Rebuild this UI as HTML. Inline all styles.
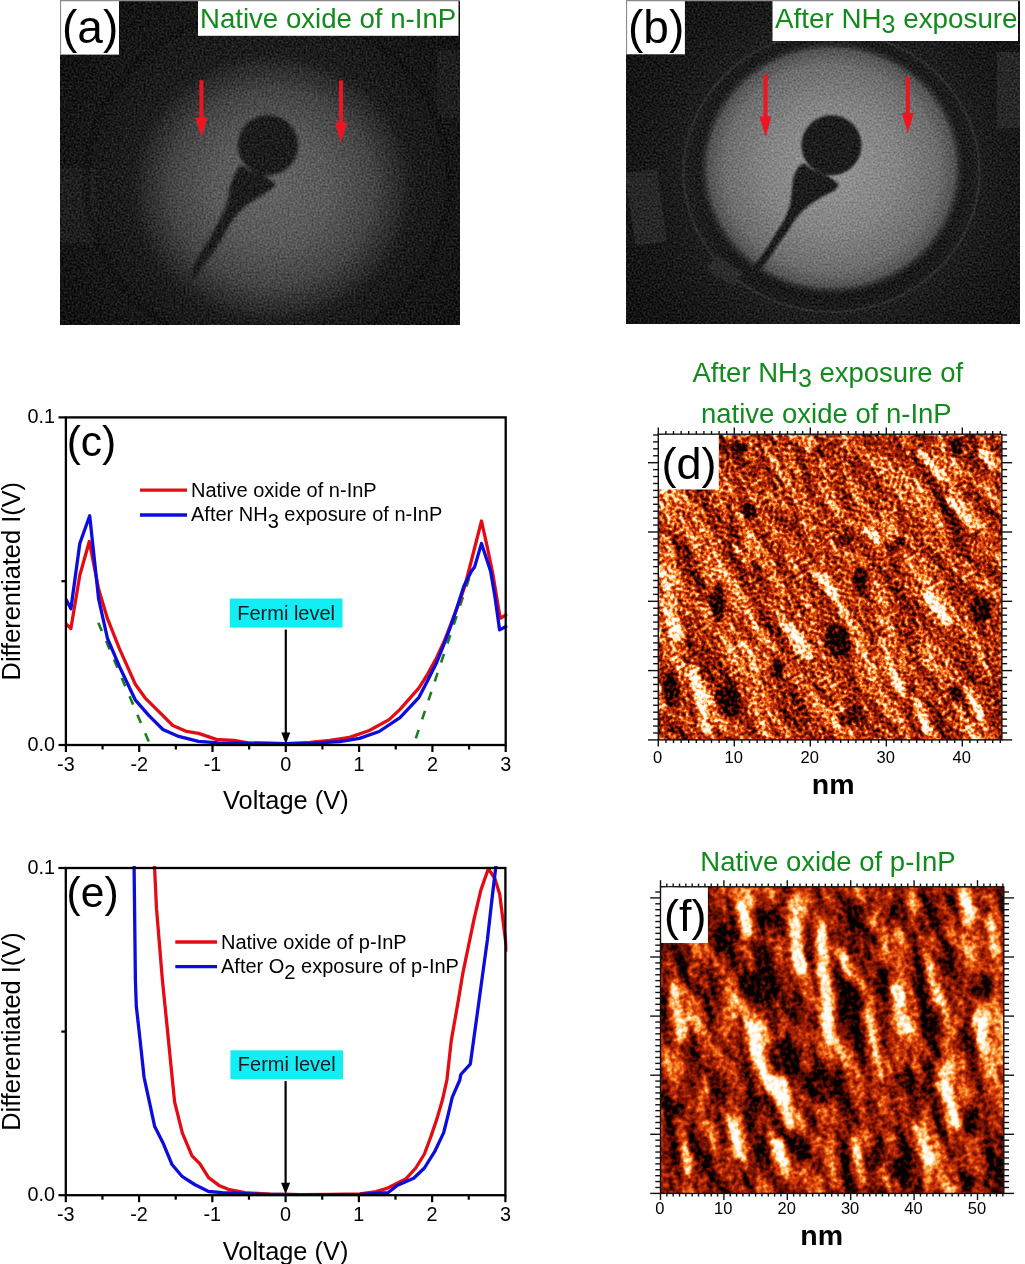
<!DOCTYPE html>
<html><head><meta charset="utf-8"><title>Figure</title>
<style>
html,body{margin:0;padding:0;background:#fff;}
body{width:1025px;height:1264px;overflow:hidden;position:relative;}
svg{position:absolute;left:0;top:0;display:block;}
text{font-family:"Liberation Sans", Arial, sans-serif;}
</style></head><body>
<svg width="1025" height="1264" viewBox="0 0 1025 1264">
<rect width="1025" height="1264" fill="#fff"/>
<defs>
<clipPath id="clipa"><rect x="0" y="0" width="400" height="325"/></clipPath>
<radialGradient id="bga" cx="208" cy="180" r="240" gradientUnits="userSpaceOnUse"><stop offset="0" stop-color="#1e1e1e"/><stop offset="0.6" stop-color="#1c1c1c"/><stop offset="0.8" stop-color="#171717"/><stop offset="1" stop-color="#121212"/></radialGradient>
<radialGradient id="disca" cx="212" cy="188" r="146" gradientUnits="userSpaceOnUse" gradientTransform="translate(212 188) scale(1 0.96) translate(-212 -188)"><stop offset="0" stop-color="#636363"/><stop offset="0.4" stop-color="#595959"/><stop offset="0.7" stop-color="#444"/><stop offset="0.88" stop-color="#2e2e2e" stop-opacity="0.8"/><stop offset="1" stop-color="#1e1e1e" stop-opacity="0"/></radialGradient>
<filter id="blura" x="-20%" y="-20%" width="140%" height="140%"><feGaussianBlur stdDeviation="1.6"/></filter>
<filter id="graina" x="0" y="0" width="400" height="325" filterUnits="userSpaceOnUse" color-interpolation-filters="sRGB"><feTurbulence type="fractalNoise" baseFrequency="0.5" numOctaves="2" seed="3" result="t"/><feColorMatrix in="t" type="matrix" values="1 0 0 0 0  1 0 0 0 0  1 0 0 0 0  0 0 0 0 1" result="n"/><feComposite in="SourceGraphic" in2="n" operator="arithmetic" k1="0" k2="1" k3="0.32" k4="-0.16"/></filter>
</defs>
<g transform="translate(60,0)" clip-path="url(#clipa)">
<g filter="url(#graina)">
<rect x="0" y="0" width="400" height="325" fill="url(#bga)"/>
<rect x="0" y="168" width="36" height="75" fill="#222" opacity="0.8"/>
<rect x="377" y="50" width="23" height="68" fill="#222" opacity="0.8"/>
<ellipse cx="208" cy="182" rx="182" ry="172" fill="none" stroke="#0e0e0e" stroke-width="8" opacity="0.35"/>
<rect x="0" y="0" width="400" height="325" fill="url(#disca)"/>
<g filter="url(#blura)" fill="#1f1f1f">
<circle cx="208" cy="145.2" r="30.2"/>
<polygon points="180.2,164.7 190.7,170.7 204.2,175.2 216.2,184.2 210.2,190.2 198.2,197.7 186.2,205.3 177.1,214.3 169.6,224.8 162.1,238.3 154.6,250.4 145.6,262.4 139.5,271.4 133.5,278.9 130.5,274.4 136.5,259.4 144.1,247.4 153.1,232.3 159.1,220.3 165.1,208.3 168.1,199.2 169.6,187.2 174.1,175.2"/>
</g>
</g>
<line x1="141.4" y1="80.4" x2="141.4" y2="123.5" stroke="#ee1520" stroke-width="4"/>
<polygon points="135.4,117.5 147.4,117.5 141.4,137.5" fill="#ee1520"/>
<line x1="281" y1="80.4" x2="281" y2="128.5" stroke="#ee1520" stroke-width="4"/>
<polygon points="275,122.5 287,122.5 281,142.5" fill="#ee1520"/>
<rect x="0" y="0" width="59" height="54.6" fill="#fff"/>
<text x="2" y="43.2" font-size="46" fill="#000">(a)</text>
<rect x="138" y="0" width="260.5" height="35.8" fill="#fff"/>
<text x="140" y="27.8" font-size="27.6" fill="#128a1e">Native oxide of n-InP</text>
<path d="M0.5,54.6 V0.6 H400" fill="none" stroke="#8a8a8a" stroke-width="1.2"/>
</g>
<defs>
<clipPath id="clipb"><rect x="0" y="0" width="394" height="324"/></clipPath>
<radialGradient id="bgb" cx="206" cy="172" r="250" gradientUnits="userSpaceOnUse"><stop offset="0" stop-color="#1c1c1c"/><stop offset="0.5" stop-color="#181818"/><stop offset="0.58" stop-color="#1f1f1f"/><stop offset="0.68" stop-color="#1a1a1a"/><stop offset="1" stop-color="#121212"/></radialGradient>
<radialGradient id="discb" cx="205.6" cy="168" r="134" gradientUnits="userSpaceOnUse" gradientTransform="translate(205.6 168) scale(1 0.96) translate(-205.6 -168)"><stop offset="0" stop-color="#949494"/><stop offset="0.5" stop-color="#838383"/><stop offset="0.8" stop-color="#6d6d6d"/><stop offset="0.92" stop-color="#525252"/><stop offset="1" stop-color="#222" stop-opacity="0"/></radialGradient>
<filter id="blurb" x="-20%" y="-20%" width="140%" height="140%"><feGaussianBlur stdDeviation="1.3"/></filter>
<filter id="grainb" x="0" y="0" width="394" height="324" filterUnits="userSpaceOnUse" color-interpolation-filters="sRGB"><feTurbulence type="fractalNoise" baseFrequency="0.5" numOctaves="2" seed="7" result="t"/><feColorMatrix in="t" type="matrix" values="1 0 0 0 0  1 0 0 0 0  1 0 0 0 0  0 0 0 0 1" result="n"/><feComposite in="SourceGraphic" in2="n" operator="arithmetic" k1="0" k2="1" k3="0.32" k4="-0.16"/></filter>
</defs>
<g transform="translate(626,0)" clip-path="url(#clipb)">
<g filter="url(#grainb)">
<rect x="0" y="0" width="394" height="324" fill="url(#bgb)"/>
<ellipse cx="205.6" cy="172" rx="148" ry="140" fill="none" stroke="#2e2e2e" stroke-width="2.5"/>
<rect x="4" y="171" width="32" height="73" fill="#282828" transform="rotate(-8 20 207)"/>
<rect x="371" y="52" width="23" height="76" fill="#282828"/>
<rect x="83" y="262" width="32" height="17" fill="#2c2c2c" transform="rotate(32 98 271)"/>
<rect x="0" y="0" width="394" height="324" fill="url(#discb)"/>
<g filter="url(#blurb)" fill="#1c1c1c">
<circle cx="205.5" cy="145.3" r="30"/>
<polygon points="177.6,163.2 188.2,170.7 203.2,176.7 213.0,184.2 209.2,190.2 197.2,196.2 185.2,203.8 176.1,211.3 168.6,220.3 161.1,232.3 152.1,244.4 144.6,256.4 135.5,268.4 128.0,277.4 122.0,278.9 125.0,269.9 134.0,257.9 143.1,244.4 150.6,232.3 158.1,220.3 164.1,205.3 165.6,193.2 167.1,178.2 171.6,167.7"/>
</g>
</g>
<line x1="139.5" y1="75" x2="139.5" y2="122.5" stroke="#ee1520" stroke-width="4"/>
<polygon points="133.5,116.5 145.5,116.5 139.5,136.5" fill="#ee1520"/>
<line x1="281.8" y1="77" x2="281.8" y2="119" stroke="#ee1520" stroke-width="4"/>
<polygon points="275.8,113 287.8,113 281.8,133" fill="#ee1520"/>
<rect x="0" y="0" width="58.9" height="54.3" fill="#fff"/>
<text x="2" y="43.2" font-size="46" fill="#000">(b)</text>
<rect x="146.5" y="0" width="245.5" height="41" fill="#fff"/>
<text x="149" y="28" font-size="27.8" fill="#128a1e">After NH<tspan dy="5" font-size="25">3</tspan><tspan dy="-5"> exposure</tspan></text>
<path d="M0.5,54.3 V0.6 H394" fill="none" stroke="#8a8a8a" stroke-width="1.2"/>
</g>
<defs><clipPath id="clipd"><rect x="658.3" y="434.2" width="343.6" height="305.7"/></clipPath>
<filter id="fltd" x="-241.95" y="-241.95" width="483.91" height="483.91" filterUnits="userSpaceOnUse" color-interpolation-filters="sRGB">
<feGaussianBlur in="SourceGraphic" stdDeviation="1.5" result="m"/>
<feTurbulence type="fractalNoise" baseFrequency="0.016 0.035" numOctaves="3" seed="8" result="tl"/>
<feColorMatrix in="tl" type="matrix" values="1 0 0 0 0  1 0 0 0 0  1 0 0 0 0  0 0 0 0 1" result="T"/>
<feGaussianBlur in="SourceGraphic" stdDeviation="4" result="mb"/>
<feComposite in="T" in2="mb" operator="arithmetic" k1="0" k2="1" k3="0.5" k4="-0.25" result="H"/>
<feColorMatrix in="H" type="matrix" values="-1 0 0 0 1  -1 0 0 0 1  -1 0 0 0 1  0 0 0 0 1" result="Hi"/>
<feOffset in="H" dx="0" dy="-3" result="Hp"/>
<feOffset in="Hi" dx="0" dy="3" result="Hmi"/>
<feComposite in="Hp" in2="Hmi" operator="arithmetic" k1="0" k2="1.4" k3="1.4" k4="-0.95" result="r"/>
<feComposite in="r" in2="m" operator="arithmetic" k1="0" k2="1" k3="0.8" k4="-0.4" result="s1"/>
<feComposite in="s1" in2="H" operator="arithmetic" k1="0" k2="1" k3="0.25" k4="-0.12" result="s2"/>
<feTurbulence type="fractalNoise" baseFrequency="0.28" numOctaves="2" seed="11" result="tf"/>
<feColorMatrix in="tf" type="matrix" values="1 0 0 0 0  1 0 0 0 0  1 0 0 0 0  0 0 0 0 1" result="n"/>
<feComposite in="s2" in2="n" operator="arithmetic" k1="0" k2="1" k3="1.5" k4="-0.75" result="s3"/>
<feComponentTransfer in="s3"><feFuncR type="table" tableValues="0 0.24 0.41 0.55 0.71 0.84 0.94 1 1 1 1"/><feFuncG type="table" tableValues="0 0.02 0.06 0.10 0.16 0.25 0.43 0.63 0.82 0.94 1"/><feFuncB type="table" tableValues="0 0 0 0.01 0.02 0.04 0.10 0.24 0.55 0.84 1"/><feFuncA type="linear" slope="0" intercept="1"/></feComponentTransfer>
</filter></defs>
<g clip-path="url(#clipd)"><g transform="translate(830.1,587.05) rotate(60)" filter="url(#fltd)">
<rect x="-241.95" y="-241.95" width="483.91" height="483.91" fill="rgb(128,128,128)"/>
<g transform="rotate(-60) translate(-171.8,-152.85)">
<ellipse cx="177.9" cy="208" rx="14" ry="17" transform="rotate(0 177.9 208)" fill="rgb(0,0,0)"/>
<ellipse cx="199.7" cy="147.7" rx="7" ry="15" transform="rotate(0 199.7 147.7)" fill="rgb(0,0,0)"/>
<ellipse cx="58.7" cy="167.8" rx="7" ry="20" transform="rotate(0 58.7 167.8)" fill="rgb(0,0,0)"/>
<ellipse cx="322" cy="174.5" rx="10" ry="13" transform="rotate(0 322 174.5)" fill="rgb(0,0,0)"/>
<ellipse cx="238" cy="110.7" rx="7" ry="7" transform="rotate(0 238 110.7)" fill="rgb(0,0,0)"/>
<ellipse cx="295" cy="13.4" rx="8" ry="10" transform="rotate(0 295 13.4)" fill="rgb(0,0,0)"/>
<ellipse cx="117.4" cy="235" rx="7" ry="10" transform="rotate(0 117.4 235)" fill="rgb(0,0,0)"/>
<ellipse cx="67" cy="268.5" rx="13" ry="15" transform="rotate(0 67 268.5)" fill="rgb(0,0,0)"/>
<ellipse cx="10" cy="255" rx="7" ry="17" transform="rotate(0 10 255)" fill="rgb(0,0,0)"/>
<ellipse cx="186" cy="107" rx="6" ry="6" transform="rotate(0 186 107)" fill="rgb(0,0,0)"/>
<ellipse cx="80.5" cy="13.4" rx="9" ry="6" transform="rotate(0 80.5 13.4)" fill="rgb(0,0,0)"/>
<ellipse cx="157.7" cy="20" rx="7" ry="6" transform="rotate(0 157.7 20)" fill="rgb(0,0,0)"/>
<ellipse cx="295" cy="261.7" rx="8" ry="8" transform="rotate(0 295 261.7)" fill="rgb(0,0,0)"/>
<ellipse cx="90.6" cy="77" rx="7" ry="7" transform="rotate(0 90.6 77)" fill="rgb(0,0,0)"/>
<ellipse cx="188" cy="285" rx="8" ry="8" transform="rotate(0 188 285)" fill="rgb(0,0,0)"/>
<line x1="0" y1="141" x2="18" y2="201" stroke="rgb(255,255,255)" stroke-width="14" stroke-linecap="round"/>
<line x1="131" y1="195" x2="148" y2="221" stroke="rgb(255,255,255)" stroke-width="12" stroke-linecap="round"/>
<line x1="157.7" y1="141" x2="174.5" y2="161" stroke="rgb(255,255,255)" stroke-width="8" stroke-linecap="round"/>
<line x1="292" y1="67" x2="312" y2="94" stroke="rgb(255,255,255)" stroke-width="8" stroke-linecap="round"/>
<line x1="268" y1="161" x2="288.6" y2="188" stroke="rgb(255,255,255)" stroke-width="9" stroke-linecap="round"/>
<line x1="221.5" y1="208" x2="241.6" y2="255" stroke="rgb(255,255,255)" stroke-width="8" stroke-linecap="round"/>
<line x1="308.7" y1="255" x2="322" y2="282" stroke="rgb(255,255,255)" stroke-width="8" stroke-linecap="round"/>
<line x1="33.6" y1="235" x2="47" y2="295" stroke="rgb(255,255,255)" stroke-width="8" stroke-linecap="round"/>
<line x1="261.7" y1="20" x2="282" y2="43.6" stroke="rgb(255,255,255)" stroke-width="8" stroke-linecap="round"/>
<line x1="210" y1="96" x2="220" y2="106" stroke="rgb(255,255,255)" stroke-width="7" stroke-linecap="round"/>
<line x1="77" y1="114" x2="87" y2="127.5" stroke="rgb(255,255,255)" stroke-width="7" stroke-linecap="round"/>
<line x1="255" y1="262" x2="268.5" y2="295" stroke="rgb(255,255,255)" stroke-width="7" stroke-linecap="round"/>
<line x1="84" y1="211" x2="100.7" y2="235" stroke="rgb(255,255,255)" stroke-width="8" stroke-linecap="round"/>
<line x1="322" y1="17" x2="335.6" y2="33.6" stroke="rgb(255,255,255)" stroke-width="7" stroke-linecap="round"/>
</g></g></g>
<defs><clipPath id="clipf"><rect x="660.5" y="886.8" width="343.3" height="306.2"/></clipPath>
<filter id="fltf" x="-242.01" y="-242.01" width="484.01" height="484.01" filterUnits="userSpaceOnUse" color-interpolation-filters="sRGB">
<feGaussianBlur in="SourceGraphic" stdDeviation="2" result="m"/>
<feTurbulence type="fractalNoise" baseFrequency="0.016 0.024" numOctaves="3" seed="4" result="tl"/>
<feColorMatrix in="tl" type="matrix" values="1 0 0 0 0  1 0 0 0 0  1 0 0 0 0  0 0 0 0 1" result="T"/>
<feGaussianBlur in="SourceGraphic" stdDeviation="5" result="mb"/>
<feComposite in="T" in2="mb" operator="arithmetic" k1="0" k2="1" k3="0.6" k4="-0.3" result="H"/>
<feColorMatrix in="H" type="matrix" values="-1 0 0 0 1  -1 0 0 0 1  -1 0 0 0 1  0 0 0 0 1" result="Hi"/>
<feOffset in="H" dx="0" dy="-3" result="Hp"/>
<feOffset in="Hi" dx="0" dy="3" result="Hmi"/>
<feComposite in="Hp" in2="Hmi" operator="arithmetic" k1="0" k2="2.3" k3="2.3" k4="-1.94" result="r"/>
<feComposite in="r" in2="m" operator="arithmetic" k1="0" k2="1" k3="0.45" k4="-0.23" result="s1"/>
<feComposite in="s1" in2="H" operator="arithmetic" k1="0" k2="1" k3="0.5" k4="-0.25" result="s2"/>
<feTurbulence type="fractalNoise" baseFrequency="0.22" numOctaves="2" seed="23" result="tf"/>
<feColorMatrix in="tf" type="matrix" values="1 0 0 0 0  1 0 0 0 0  1 0 0 0 0  0 0 0 0 1" result="n"/>
<feComposite in="s2" in2="n" operator="arithmetic" k1="0" k2="1" k3="0.75" k4="-0.38" result="s3"/>
<feComponentTransfer in="s3"><feFuncR type="table" tableValues="0 0.24 0.41 0.55 0.71 0.84 0.94 1 1 1 1"/><feFuncG type="table" tableValues="0 0.02 0.06 0.10 0.16 0.25 0.43 0.63 0.82 0.94 1"/><feFuncB type="table" tableValues="0 0 0 0.01 0.02 0.04 0.10 0.24 0.55 0.84 1"/><feFuncA type="linear" slope="0" intercept="1"/></feComponentTransfer>
</filter></defs>
<g clip-path="url(#clipf)"><g transform="translate(832.15,1039.9) rotate(75)" filter="url(#fltf)">
<rect x="-242.01" y="-242.01" width="484.01" height="484.01" fill="rgb(128,128,128)"/>
<g transform="rotate(-75) translate(-171.65,-153.1)">
<ellipse cx="94" cy="100.7" rx="20" ry="17" transform="rotate(0 94 100.7)" fill="rgb(45,45,45)"/>
<ellipse cx="114" cy="174.5" rx="17" ry="20" transform="rotate(0 114 174.5)" fill="rgb(45,45,45)"/>
<ellipse cx="157.7" cy="198" rx="20" ry="20" transform="rotate(0 157.7 198)" fill="rgb(45,45,45)"/>
<ellipse cx="57" cy="53.7" rx="15" ry="15" transform="rotate(0 57 53.7)" fill="rgb(45,45,45)"/>
<ellipse cx="97" cy="33.6" rx="15" ry="12" transform="rotate(0 97 33.6)" fill="rgb(45,45,45)"/>
<ellipse cx="33.6" cy="268.5" rx="17" ry="20" transform="rotate(0 33.6 268.5)" fill="rgb(45,45,45)"/>
<ellipse cx="214.8" cy="94" rx="15" ry="15" transform="rotate(0 214.8 94)" fill="rgb(45,45,45)"/>
<ellipse cx="188" cy="117.4" rx="12" ry="15" transform="rotate(0 188 117.4)" fill="rgb(45,45,45)"/>
<ellipse cx="302" cy="235" rx="15" ry="15" transform="rotate(0 302 235)" fill="rgb(45,45,45)"/>
<ellipse cx="261.7" cy="141" rx="10" ry="15" transform="rotate(0 261.7 141)" fill="rgb(45,45,45)"/>
<ellipse cx="241.6" cy="194.6" rx="12" ry="15" transform="rotate(0 241.6 194.6)" fill="rgb(45,45,45)"/>
<ellipse cx="318.8" cy="100.7" rx="12" ry="12" transform="rotate(0 318.8 100.7)" fill="rgb(45,45,45)"/>
<ellipse cx="134" cy="261.7" rx="12" ry="15" transform="rotate(0 134 261.7)" fill="rgb(45,45,45)"/>
<ellipse cx="208" cy="268.5" rx="15" ry="15" transform="rotate(0 208 268.5)" fill="rgb(45,45,45)"/>
<ellipse cx="235" cy="282" rx="12" ry="12" transform="rotate(0 235 282)" fill="rgb(45,45,45)"/>
<ellipse cx="302" cy="295" rx="12" ry="10" transform="rotate(0 302 295)" fill="rgb(45,45,45)"/>
<ellipse cx="228" cy="33.6" rx="12" ry="12" transform="rotate(0 228 33.6)" fill="rgb(45,45,45)"/>
<ellipse cx="188" cy="26.8" rx="12" ry="12" transform="rotate(0 188 26.8)" fill="rgb(45,45,45)"/>
<ellipse cx="26.8" cy="161" rx="12" ry="15" transform="rotate(0 26.8 161)" fill="rgb(45,45,45)"/>
<ellipse cx="302" cy="154" rx="12" ry="15" transform="rotate(0 302 154)" fill="rgb(45,45,45)"/>
<line x1="78" y1="20" x2="84" y2="47" stroke="rgb(255,255,255)" stroke-width="12" stroke-linecap="round"/>
<line x1="128" y1="13" x2="137" y2="84" stroke="rgb(255,255,255)" stroke-width="13" stroke-linecap="round"/>
<line x1="157" y1="40" x2="165" y2="141" stroke="rgb(255,255,255)" stroke-width="12" stroke-linecap="round"/>
<line x1="86" y1="141" x2="99" y2="201" stroke="rgb(255,255,255)" stroke-width="16" stroke-linecap="round"/>
<line x1="113" y1="195" x2="125" y2="235" stroke="rgb(255,255,255)" stroke-width="13" stroke-linecap="round"/>
<line x1="203" y1="127.5" x2="216" y2="188" stroke="rgb(255,255,255)" stroke-width="12" stroke-linecap="round"/>
<line x1="232" y1="104" x2="238" y2="141" stroke="rgb(255,255,255)" stroke-width="12" stroke-linecap="round"/>
<line x1="279" y1="181" x2="289" y2="235" stroke="rgb(255,255,255)" stroke-width="16" stroke-linecap="round"/>
<line x1="261" y1="54" x2="272" y2="114" stroke="rgb(255,255,255)" stroke-width="11" stroke-linecap="round"/>
<line x1="315" y1="134" x2="326" y2="188" stroke="rgb(255,255,255)" stroke-width="12" stroke-linecap="round"/>
<line x1="67" y1="235" x2="74" y2="268" stroke="rgb(255,255,255)" stroke-width="11" stroke-linecap="round"/>
<line x1="114" y1="258" x2="121" y2="292" stroke="rgb(255,255,255)" stroke-width="11" stroke-linecap="round"/>
<line x1="10" y1="101" x2="17" y2="151" stroke="rgb(255,255,255)" stroke-width="11" stroke-linecap="round"/>
<line x1="16" y1="235" x2="24" y2="285" stroke="rgb(255,255,255)" stroke-width="11" stroke-linecap="round"/>
<line x1="191" y1="255" x2="198" y2="295" stroke="rgb(255,255,255)" stroke-width="11" stroke-linecap="round"/>
<line x1="255" y1="242" x2="265" y2="275" stroke="rgb(255,255,255)" stroke-width="11" stroke-linecap="round"/>
<line x1="298" y1="7" x2="306" y2="34" stroke="rgb(255,255,255)" stroke-width="11" stroke-linecap="round"/>
<line x1="177" y1="67" x2="185" y2="90" stroke="rgb(255,255,255)" stroke-width="10" stroke-linecap="round"/>
<line x1="325" y1="34" x2="333" y2="67" stroke="rgb(255,255,255)" stroke-width="10" stroke-linecap="round"/>
</g></g></g>
<g stroke="#111" stroke-width="1.4" fill="none">
<line x1="658.3" y1="739.9" x2="658.3" y2="746.5"/>
<line x1="658.3" y1="434.2" x2="658.3" y2="427.6"/>
<line x1="665.9" y1="739.9" x2="665.9" y2="743.1"/>
<line x1="665.9" y1="434.2" x2="665.9" y2="431"/>
<line x1="673.5" y1="739.9" x2="673.5" y2="743.1"/>
<line x1="673.5" y1="434.2" x2="673.5" y2="431"/>
<line x1="681.1" y1="739.9" x2="681.1" y2="743.1"/>
<line x1="681.1" y1="434.2" x2="681.1" y2="431"/>
<line x1="688.7" y1="739.9" x2="688.7" y2="743.1"/>
<line x1="688.7" y1="434.2" x2="688.7" y2="431"/>
<line x1="696.3" y1="739.9" x2="696.3" y2="743.1"/>
<line x1="696.3" y1="434.2" x2="696.3" y2="431"/>
<line x1="703.9" y1="739.9" x2="703.9" y2="743.1"/>
<line x1="703.9" y1="434.2" x2="703.9" y2="431"/>
<line x1="711.5" y1="739.9" x2="711.5" y2="743.1"/>
<line x1="711.5" y1="434.2" x2="711.5" y2="431"/>
<line x1="719.1" y1="739.9" x2="719.1" y2="743.1"/>
<line x1="719.1" y1="434.2" x2="719.1" y2="431"/>
<line x1="726.7" y1="739.9" x2="726.7" y2="743.1"/>
<line x1="726.7" y1="434.2" x2="726.7" y2="431"/>
<line x1="734.3" y1="739.9" x2="734.3" y2="746.5"/>
<line x1="734.3" y1="434.2" x2="734.3" y2="427.6"/>
<line x1="741.9" y1="739.9" x2="741.9" y2="743.1"/>
<line x1="741.9" y1="434.2" x2="741.9" y2="431"/>
<line x1="749.5" y1="739.9" x2="749.5" y2="743.1"/>
<line x1="749.5" y1="434.2" x2="749.5" y2="431"/>
<line x1="757.1" y1="739.9" x2="757.1" y2="743.1"/>
<line x1="757.1" y1="434.2" x2="757.1" y2="431"/>
<line x1="764.7" y1="739.9" x2="764.7" y2="743.1"/>
<line x1="764.7" y1="434.2" x2="764.7" y2="431"/>
<line x1="772.3" y1="739.9" x2="772.3" y2="743.1"/>
<line x1="772.3" y1="434.2" x2="772.3" y2="431"/>
<line x1="779.9" y1="739.9" x2="779.9" y2="743.1"/>
<line x1="779.9" y1="434.2" x2="779.9" y2="431"/>
<line x1="787.5" y1="739.9" x2="787.5" y2="743.1"/>
<line x1="787.5" y1="434.2" x2="787.5" y2="431"/>
<line x1="795.1" y1="739.9" x2="795.1" y2="743.1"/>
<line x1="795.1" y1="434.2" x2="795.1" y2="431"/>
<line x1="802.7" y1="739.9" x2="802.7" y2="743.1"/>
<line x1="802.7" y1="434.2" x2="802.7" y2="431"/>
<line x1="810.3" y1="739.9" x2="810.3" y2="746.5"/>
<line x1="810.3" y1="434.2" x2="810.3" y2="427.6"/>
<line x1="817.9" y1="739.9" x2="817.9" y2="743.1"/>
<line x1="817.9" y1="434.2" x2="817.9" y2="431"/>
<line x1="825.5" y1="739.9" x2="825.5" y2="743.1"/>
<line x1="825.5" y1="434.2" x2="825.5" y2="431"/>
<line x1="833.1" y1="739.9" x2="833.1" y2="743.1"/>
<line x1="833.1" y1="434.2" x2="833.1" y2="431"/>
<line x1="840.7" y1="739.9" x2="840.7" y2="743.1"/>
<line x1="840.7" y1="434.2" x2="840.7" y2="431"/>
<line x1="848.3" y1="739.9" x2="848.3" y2="743.1"/>
<line x1="848.3" y1="434.2" x2="848.3" y2="431"/>
<line x1="855.9" y1="739.9" x2="855.9" y2="743.1"/>
<line x1="855.9" y1="434.2" x2="855.9" y2="431"/>
<line x1="863.5" y1="739.9" x2="863.5" y2="743.1"/>
<line x1="863.5" y1="434.2" x2="863.5" y2="431"/>
<line x1="871.1" y1="739.9" x2="871.1" y2="743.1"/>
<line x1="871.1" y1="434.2" x2="871.1" y2="431"/>
<line x1="878.7" y1="739.9" x2="878.7" y2="743.1"/>
<line x1="878.7" y1="434.2" x2="878.7" y2="431"/>
<line x1="886.3" y1="739.9" x2="886.3" y2="746.5"/>
<line x1="886.3" y1="434.2" x2="886.3" y2="427.6"/>
<line x1="893.9" y1="739.9" x2="893.9" y2="743.1"/>
<line x1="893.9" y1="434.2" x2="893.9" y2="431"/>
<line x1="901.5" y1="739.9" x2="901.5" y2="743.1"/>
<line x1="901.5" y1="434.2" x2="901.5" y2="431"/>
<line x1="909.1" y1="739.9" x2="909.1" y2="743.1"/>
<line x1="909.1" y1="434.2" x2="909.1" y2="431"/>
<line x1="916.7" y1="739.9" x2="916.7" y2="743.1"/>
<line x1="916.7" y1="434.2" x2="916.7" y2="431"/>
<line x1="924.3" y1="739.9" x2="924.3" y2="743.1"/>
<line x1="924.3" y1="434.2" x2="924.3" y2="431"/>
<line x1="931.9" y1="739.9" x2="931.9" y2="743.1"/>
<line x1="931.9" y1="434.2" x2="931.9" y2="431"/>
<line x1="939.5" y1="739.9" x2="939.5" y2="743.1"/>
<line x1="939.5" y1="434.2" x2="939.5" y2="431"/>
<line x1="947.1" y1="739.9" x2="947.1" y2="743.1"/>
<line x1="947.1" y1="434.2" x2="947.1" y2="431"/>
<line x1="954.7" y1="739.9" x2="954.7" y2="743.1"/>
<line x1="954.7" y1="434.2" x2="954.7" y2="431"/>
<line x1="962.3" y1="739.9" x2="962.3" y2="746.5"/>
<line x1="962.3" y1="434.2" x2="962.3" y2="427.6"/>
<line x1="969.9" y1="739.9" x2="969.9" y2="743.1"/>
<line x1="969.9" y1="434.2" x2="969.9" y2="431"/>
<line x1="977.5" y1="739.9" x2="977.5" y2="743.1"/>
<line x1="977.5" y1="434.2" x2="977.5" y2="431"/>
<line x1="985.1" y1="739.9" x2="985.1" y2="743.1"/>
<line x1="985.1" y1="434.2" x2="985.1" y2="431"/>
<line x1="992.7" y1="739.9" x2="992.7" y2="743.1"/>
<line x1="992.7" y1="434.2" x2="992.7" y2="431"/>
<line x1="1000.3" y1="739.9" x2="1000.3" y2="743.1"/>
<line x1="1000.3" y1="434.2" x2="1000.3" y2="431"/>
<line x1="658.3" y1="739.9" x2="648" y2="739.9"/>
<line x1="1001.9" y1="739.9" x2="1012.2" y2="739.9"/>
<line x1="658.3" y1="732.97" x2="653.1" y2="732.97"/>
<line x1="1001.9" y1="732.97" x2="1007.1" y2="732.97"/>
<line x1="658.3" y1="726.04" x2="653.1" y2="726.04"/>
<line x1="1001.9" y1="726.04" x2="1007.1" y2="726.04"/>
<line x1="658.3" y1="719.11" x2="653.1" y2="719.11"/>
<line x1="1001.9" y1="719.11" x2="1007.1" y2="719.11"/>
<line x1="658.3" y1="712.18" x2="653.1" y2="712.18"/>
<line x1="1001.9" y1="712.18" x2="1007.1" y2="712.18"/>
<line x1="658.3" y1="705.25" x2="653.1" y2="705.25"/>
<line x1="1001.9" y1="705.25" x2="1007.1" y2="705.25"/>
<line x1="658.3" y1="698.32" x2="653.1" y2="698.32"/>
<line x1="1001.9" y1="698.32" x2="1007.1" y2="698.32"/>
<line x1="658.3" y1="691.39" x2="653.1" y2="691.39"/>
<line x1="1001.9" y1="691.39" x2="1007.1" y2="691.39"/>
<line x1="658.3" y1="684.46" x2="653.1" y2="684.46"/>
<line x1="1001.9" y1="684.46" x2="1007.1" y2="684.46"/>
<line x1="658.3" y1="677.53" x2="653.1" y2="677.53"/>
<line x1="1001.9" y1="677.53" x2="1007.1" y2="677.53"/>
<line x1="658.3" y1="670.6" x2="648" y2="670.6"/>
<line x1="1001.9" y1="670.6" x2="1012.2" y2="670.6"/>
<line x1="658.3" y1="663.67" x2="653.1" y2="663.67"/>
<line x1="1001.9" y1="663.67" x2="1007.1" y2="663.67"/>
<line x1="658.3" y1="656.74" x2="653.1" y2="656.74"/>
<line x1="1001.9" y1="656.74" x2="1007.1" y2="656.74"/>
<line x1="658.3" y1="649.81" x2="653.1" y2="649.81"/>
<line x1="1001.9" y1="649.81" x2="1007.1" y2="649.81"/>
<line x1="658.3" y1="642.88" x2="653.1" y2="642.88"/>
<line x1="1001.9" y1="642.88" x2="1007.1" y2="642.88"/>
<line x1="658.3" y1="635.95" x2="653.1" y2="635.95"/>
<line x1="1001.9" y1="635.95" x2="1007.1" y2="635.95"/>
<line x1="658.3" y1="629.02" x2="653.1" y2="629.02"/>
<line x1="1001.9" y1="629.02" x2="1007.1" y2="629.02"/>
<line x1="658.3" y1="622.09" x2="653.1" y2="622.09"/>
<line x1="1001.9" y1="622.09" x2="1007.1" y2="622.09"/>
<line x1="658.3" y1="615.16" x2="653.1" y2="615.16"/>
<line x1="1001.9" y1="615.16" x2="1007.1" y2="615.16"/>
<line x1="658.3" y1="608.23" x2="653.1" y2="608.23"/>
<line x1="1001.9" y1="608.23" x2="1007.1" y2="608.23"/>
<line x1="658.3" y1="601.3" x2="648" y2="601.3"/>
<line x1="1001.9" y1="601.3" x2="1012.2" y2="601.3"/>
<line x1="658.3" y1="594.37" x2="653.1" y2="594.37"/>
<line x1="1001.9" y1="594.37" x2="1007.1" y2="594.37"/>
<line x1="658.3" y1="587.44" x2="653.1" y2="587.44"/>
<line x1="1001.9" y1="587.44" x2="1007.1" y2="587.44"/>
<line x1="658.3" y1="580.51" x2="653.1" y2="580.51"/>
<line x1="1001.9" y1="580.51" x2="1007.1" y2="580.51"/>
<line x1="658.3" y1="573.58" x2="653.1" y2="573.58"/>
<line x1="1001.9" y1="573.58" x2="1007.1" y2="573.58"/>
<line x1="658.3" y1="566.65" x2="653.1" y2="566.65"/>
<line x1="1001.9" y1="566.65" x2="1007.1" y2="566.65"/>
<line x1="658.3" y1="559.72" x2="653.1" y2="559.72"/>
<line x1="1001.9" y1="559.72" x2="1007.1" y2="559.72"/>
<line x1="658.3" y1="552.79" x2="653.1" y2="552.79"/>
<line x1="1001.9" y1="552.79" x2="1007.1" y2="552.79"/>
<line x1="658.3" y1="545.86" x2="653.1" y2="545.86"/>
<line x1="1001.9" y1="545.86" x2="1007.1" y2="545.86"/>
<line x1="658.3" y1="538.93" x2="653.1" y2="538.93"/>
<line x1="1001.9" y1="538.93" x2="1007.1" y2="538.93"/>
<line x1="658.3" y1="532" x2="648" y2="532"/>
<line x1="1001.9" y1="532" x2="1012.2" y2="532"/>
<line x1="658.3" y1="525.07" x2="653.1" y2="525.07"/>
<line x1="1001.9" y1="525.07" x2="1007.1" y2="525.07"/>
<line x1="658.3" y1="518.14" x2="653.1" y2="518.14"/>
<line x1="1001.9" y1="518.14" x2="1007.1" y2="518.14"/>
<line x1="658.3" y1="511.21" x2="653.1" y2="511.21"/>
<line x1="1001.9" y1="511.21" x2="1007.1" y2="511.21"/>
<line x1="658.3" y1="504.28" x2="653.1" y2="504.28"/>
<line x1="1001.9" y1="504.28" x2="1007.1" y2="504.28"/>
<line x1="658.3" y1="497.35" x2="653.1" y2="497.35"/>
<line x1="1001.9" y1="497.35" x2="1007.1" y2="497.35"/>
<line x1="658.3" y1="490.42" x2="653.1" y2="490.42"/>
<line x1="1001.9" y1="490.42" x2="1007.1" y2="490.42"/>
<line x1="658.3" y1="483.49" x2="653.1" y2="483.49"/>
<line x1="1001.9" y1="483.49" x2="1007.1" y2="483.49"/>
<line x1="658.3" y1="476.56" x2="653.1" y2="476.56"/>
<line x1="1001.9" y1="476.56" x2="1007.1" y2="476.56"/>
<line x1="658.3" y1="469.63" x2="653.1" y2="469.63"/>
<line x1="1001.9" y1="469.63" x2="1007.1" y2="469.63"/>
<line x1="658.3" y1="462.7" x2="648" y2="462.7"/>
<line x1="1001.9" y1="462.7" x2="1012.2" y2="462.7"/>
<line x1="658.3" y1="455.77" x2="653.1" y2="455.77"/>
<line x1="1001.9" y1="455.77" x2="1007.1" y2="455.77"/>
<line x1="658.3" y1="448.84" x2="653.1" y2="448.84"/>
<line x1="1001.9" y1="448.84" x2="1007.1" y2="448.84"/>
<line x1="658.3" y1="441.91" x2="653.1" y2="441.91"/>
<line x1="1001.9" y1="441.91" x2="1007.1" y2="441.91"/>
<line x1="658.3" y1="434.98" x2="653.1" y2="434.98"/>
<line x1="1001.9" y1="434.98" x2="1007.1" y2="434.98"/>
<rect x="658.3" y="434.2" width="343.6" height="305.7"/>
</g>
<text x="657.7" y="762.6" text-anchor="middle" font-size="16.5">0</text>
<text x="733.7" y="762.6" text-anchor="middle" font-size="16.5">10</text>
<text x="809.7" y="762.6" text-anchor="middle" font-size="16.5">20</text>
<text x="885.7" y="762.6" text-anchor="middle" font-size="16.5">30</text>
<text x="961.7" y="762.6" text-anchor="middle" font-size="16.5">40</text>
<text x="833.2" y="794.2" text-anchor="middle" font-size="28.5" font-weight="bold">nm</text>
<rect x="659" y="434.9" width="59.8" height="54.6" fill="#fff"/>
<text x="661.5" y="478.5" font-size="45">(d)</text>
<g stroke="#111" stroke-width="1.4" fill="none">
<line x1="660.5" y1="1193.4" x2="660.5" y2="1200"/>
<line x1="660.5" y1="886.8" x2="660.5" y2="880.2"/>
<line x1="666.84" y1="1193.4" x2="666.84" y2="1196.6"/>
<line x1="666.84" y1="886.8" x2="666.84" y2="883.6"/>
<line x1="673.18" y1="1193.4" x2="673.18" y2="1196.6"/>
<line x1="673.18" y1="886.8" x2="673.18" y2="883.6"/>
<line x1="679.52" y1="1193.4" x2="679.52" y2="1196.6"/>
<line x1="679.52" y1="886.8" x2="679.52" y2="883.6"/>
<line x1="685.86" y1="1193.4" x2="685.86" y2="1196.6"/>
<line x1="685.86" y1="886.8" x2="685.86" y2="883.6"/>
<line x1="692.2" y1="1193.4" x2="692.2" y2="1196.6"/>
<line x1="692.2" y1="886.8" x2="692.2" y2="883.6"/>
<line x1="698.54" y1="1193.4" x2="698.54" y2="1196.6"/>
<line x1="698.54" y1="886.8" x2="698.54" y2="883.6"/>
<line x1="704.88" y1="1193.4" x2="704.88" y2="1196.6"/>
<line x1="704.88" y1="886.8" x2="704.88" y2="883.6"/>
<line x1="711.22" y1="1193.4" x2="711.22" y2="1196.6"/>
<line x1="711.22" y1="886.8" x2="711.22" y2="883.6"/>
<line x1="717.56" y1="1193.4" x2="717.56" y2="1196.6"/>
<line x1="717.56" y1="886.8" x2="717.56" y2="883.6"/>
<line x1="723.9" y1="1193.4" x2="723.9" y2="1200"/>
<line x1="723.9" y1="886.8" x2="723.9" y2="880.2"/>
<line x1="730.24" y1="1193.4" x2="730.24" y2="1196.6"/>
<line x1="730.24" y1="886.8" x2="730.24" y2="883.6"/>
<line x1="736.58" y1="1193.4" x2="736.58" y2="1196.6"/>
<line x1="736.58" y1="886.8" x2="736.58" y2="883.6"/>
<line x1="742.92" y1="1193.4" x2="742.92" y2="1196.6"/>
<line x1="742.92" y1="886.8" x2="742.92" y2="883.6"/>
<line x1="749.26" y1="1193.4" x2="749.26" y2="1196.6"/>
<line x1="749.26" y1="886.8" x2="749.26" y2="883.6"/>
<line x1="755.6" y1="1193.4" x2="755.6" y2="1196.6"/>
<line x1="755.6" y1="886.8" x2="755.6" y2="883.6"/>
<line x1="761.94" y1="1193.4" x2="761.94" y2="1196.6"/>
<line x1="761.94" y1="886.8" x2="761.94" y2="883.6"/>
<line x1="768.28" y1="1193.4" x2="768.28" y2="1196.6"/>
<line x1="768.28" y1="886.8" x2="768.28" y2="883.6"/>
<line x1="774.62" y1="1193.4" x2="774.62" y2="1196.6"/>
<line x1="774.62" y1="886.8" x2="774.62" y2="883.6"/>
<line x1="780.96" y1="1193.4" x2="780.96" y2="1196.6"/>
<line x1="780.96" y1="886.8" x2="780.96" y2="883.6"/>
<line x1="787.3" y1="1193.4" x2="787.3" y2="1200"/>
<line x1="787.3" y1="886.8" x2="787.3" y2="880.2"/>
<line x1="793.64" y1="1193.4" x2="793.64" y2="1196.6"/>
<line x1="793.64" y1="886.8" x2="793.64" y2="883.6"/>
<line x1="799.98" y1="1193.4" x2="799.98" y2="1196.6"/>
<line x1="799.98" y1="886.8" x2="799.98" y2="883.6"/>
<line x1="806.32" y1="1193.4" x2="806.32" y2="1196.6"/>
<line x1="806.32" y1="886.8" x2="806.32" y2="883.6"/>
<line x1="812.66" y1="1193.4" x2="812.66" y2="1196.6"/>
<line x1="812.66" y1="886.8" x2="812.66" y2="883.6"/>
<line x1="819" y1="1193.4" x2="819" y2="1196.6"/>
<line x1="819" y1="886.8" x2="819" y2="883.6"/>
<line x1="825.34" y1="1193.4" x2="825.34" y2="1196.6"/>
<line x1="825.34" y1="886.8" x2="825.34" y2="883.6"/>
<line x1="831.68" y1="1193.4" x2="831.68" y2="1196.6"/>
<line x1="831.68" y1="886.8" x2="831.68" y2="883.6"/>
<line x1="838.02" y1="1193.4" x2="838.02" y2="1196.6"/>
<line x1="838.02" y1="886.8" x2="838.02" y2="883.6"/>
<line x1="844.36" y1="1193.4" x2="844.36" y2="1196.6"/>
<line x1="844.36" y1="886.8" x2="844.36" y2="883.6"/>
<line x1="850.7" y1="1193.4" x2="850.7" y2="1200"/>
<line x1="850.7" y1="886.8" x2="850.7" y2="880.2"/>
<line x1="857.04" y1="1193.4" x2="857.04" y2="1196.6"/>
<line x1="857.04" y1="886.8" x2="857.04" y2="883.6"/>
<line x1="863.38" y1="1193.4" x2="863.38" y2="1196.6"/>
<line x1="863.38" y1="886.8" x2="863.38" y2="883.6"/>
<line x1="869.72" y1="1193.4" x2="869.72" y2="1196.6"/>
<line x1="869.72" y1="886.8" x2="869.72" y2="883.6"/>
<line x1="876.06" y1="1193.4" x2="876.06" y2="1196.6"/>
<line x1="876.06" y1="886.8" x2="876.06" y2="883.6"/>
<line x1="882.4" y1="1193.4" x2="882.4" y2="1196.6"/>
<line x1="882.4" y1="886.8" x2="882.4" y2="883.6"/>
<line x1="888.74" y1="1193.4" x2="888.74" y2="1196.6"/>
<line x1="888.74" y1="886.8" x2="888.74" y2="883.6"/>
<line x1="895.08" y1="1193.4" x2="895.08" y2="1196.6"/>
<line x1="895.08" y1="886.8" x2="895.08" y2="883.6"/>
<line x1="901.42" y1="1193.4" x2="901.42" y2="1196.6"/>
<line x1="901.42" y1="886.8" x2="901.42" y2="883.6"/>
<line x1="907.76" y1="1193.4" x2="907.76" y2="1196.6"/>
<line x1="907.76" y1="886.8" x2="907.76" y2="883.6"/>
<line x1="914.1" y1="1193.4" x2="914.1" y2="1200"/>
<line x1="914.1" y1="886.8" x2="914.1" y2="880.2"/>
<line x1="920.44" y1="1193.4" x2="920.44" y2="1196.6"/>
<line x1="920.44" y1="886.8" x2="920.44" y2="883.6"/>
<line x1="926.78" y1="1193.4" x2="926.78" y2="1196.6"/>
<line x1="926.78" y1="886.8" x2="926.78" y2="883.6"/>
<line x1="933.12" y1="1193.4" x2="933.12" y2="1196.6"/>
<line x1="933.12" y1="886.8" x2="933.12" y2="883.6"/>
<line x1="939.46" y1="1193.4" x2="939.46" y2="1196.6"/>
<line x1="939.46" y1="886.8" x2="939.46" y2="883.6"/>
<line x1="945.8" y1="1193.4" x2="945.8" y2="1196.6"/>
<line x1="945.8" y1="886.8" x2="945.8" y2="883.6"/>
<line x1="952.14" y1="1193.4" x2="952.14" y2="1196.6"/>
<line x1="952.14" y1="886.8" x2="952.14" y2="883.6"/>
<line x1="958.48" y1="1193.4" x2="958.48" y2="1196.6"/>
<line x1="958.48" y1="886.8" x2="958.48" y2="883.6"/>
<line x1="964.82" y1="1193.4" x2="964.82" y2="1196.6"/>
<line x1="964.82" y1="886.8" x2="964.82" y2="883.6"/>
<line x1="971.16" y1="1193.4" x2="971.16" y2="1196.6"/>
<line x1="971.16" y1="886.8" x2="971.16" y2="883.6"/>
<line x1="977.5" y1="1193.4" x2="977.5" y2="1200"/>
<line x1="977.5" y1="886.8" x2="977.5" y2="880.2"/>
<line x1="983.84" y1="1193.4" x2="983.84" y2="1196.6"/>
<line x1="983.84" y1="886.8" x2="983.84" y2="883.6"/>
<line x1="990.18" y1="1193.4" x2="990.18" y2="1196.6"/>
<line x1="990.18" y1="886.8" x2="990.18" y2="883.6"/>
<line x1="996.52" y1="1193.4" x2="996.52" y2="1196.6"/>
<line x1="996.52" y1="886.8" x2="996.52" y2="883.6"/>
<line x1="1002.86" y1="1193.4" x2="1002.86" y2="1196.6"/>
<line x1="1002.86" y1="886.8" x2="1002.86" y2="883.6"/>
<line x1="660.5" y1="1193.4" x2="650.2" y2="1193.4"/>
<line x1="1003.8" y1="1193.4" x2="1014.1" y2="1193.4"/>
<line x1="660.5" y1="1187.49" x2="655.3" y2="1187.49"/>
<line x1="1003.8" y1="1187.49" x2="1009" y2="1187.49"/>
<line x1="660.5" y1="1181.58" x2="655.3" y2="1181.58"/>
<line x1="1003.8" y1="1181.58" x2="1009" y2="1181.58"/>
<line x1="660.5" y1="1175.67" x2="655.3" y2="1175.67"/>
<line x1="1003.8" y1="1175.67" x2="1009" y2="1175.67"/>
<line x1="660.5" y1="1169.76" x2="655.3" y2="1169.76"/>
<line x1="1003.8" y1="1169.76" x2="1009" y2="1169.76"/>
<line x1="660.5" y1="1163.85" x2="655.3" y2="1163.85"/>
<line x1="1003.8" y1="1163.85" x2="1009" y2="1163.85"/>
<line x1="660.5" y1="1157.94" x2="655.3" y2="1157.94"/>
<line x1="1003.8" y1="1157.94" x2="1009" y2="1157.94"/>
<line x1="660.5" y1="1152.03" x2="655.3" y2="1152.03"/>
<line x1="1003.8" y1="1152.03" x2="1009" y2="1152.03"/>
<line x1="660.5" y1="1146.12" x2="655.3" y2="1146.12"/>
<line x1="1003.8" y1="1146.12" x2="1009" y2="1146.12"/>
<line x1="660.5" y1="1140.21" x2="655.3" y2="1140.21"/>
<line x1="1003.8" y1="1140.21" x2="1009" y2="1140.21"/>
<line x1="660.5" y1="1134.3" x2="650.2" y2="1134.3"/>
<line x1="1003.8" y1="1134.3" x2="1014.1" y2="1134.3"/>
<line x1="660.5" y1="1128.39" x2="655.3" y2="1128.39"/>
<line x1="1003.8" y1="1128.39" x2="1009" y2="1128.39"/>
<line x1="660.5" y1="1122.48" x2="655.3" y2="1122.48"/>
<line x1="1003.8" y1="1122.48" x2="1009" y2="1122.48"/>
<line x1="660.5" y1="1116.57" x2="655.3" y2="1116.57"/>
<line x1="1003.8" y1="1116.57" x2="1009" y2="1116.57"/>
<line x1="660.5" y1="1110.66" x2="655.3" y2="1110.66"/>
<line x1="1003.8" y1="1110.66" x2="1009" y2="1110.66"/>
<line x1="660.5" y1="1104.75" x2="655.3" y2="1104.75"/>
<line x1="1003.8" y1="1104.75" x2="1009" y2="1104.75"/>
<line x1="660.5" y1="1098.84" x2="655.3" y2="1098.84"/>
<line x1="1003.8" y1="1098.84" x2="1009" y2="1098.84"/>
<line x1="660.5" y1="1092.93" x2="655.3" y2="1092.93"/>
<line x1="1003.8" y1="1092.93" x2="1009" y2="1092.93"/>
<line x1="660.5" y1="1087.02" x2="655.3" y2="1087.02"/>
<line x1="1003.8" y1="1087.02" x2="1009" y2="1087.02"/>
<line x1="660.5" y1="1081.11" x2="655.3" y2="1081.11"/>
<line x1="1003.8" y1="1081.11" x2="1009" y2="1081.11"/>
<line x1="660.5" y1="1075.2" x2="650.2" y2="1075.2"/>
<line x1="1003.8" y1="1075.2" x2="1014.1" y2="1075.2"/>
<line x1="660.5" y1="1069.29" x2="655.3" y2="1069.29"/>
<line x1="1003.8" y1="1069.29" x2="1009" y2="1069.29"/>
<line x1="660.5" y1="1063.38" x2="655.3" y2="1063.38"/>
<line x1="1003.8" y1="1063.38" x2="1009" y2="1063.38"/>
<line x1="660.5" y1="1057.47" x2="655.3" y2="1057.47"/>
<line x1="1003.8" y1="1057.47" x2="1009" y2="1057.47"/>
<line x1="660.5" y1="1051.56" x2="655.3" y2="1051.56"/>
<line x1="1003.8" y1="1051.56" x2="1009" y2="1051.56"/>
<line x1="660.5" y1="1045.65" x2="655.3" y2="1045.65"/>
<line x1="1003.8" y1="1045.65" x2="1009" y2="1045.65"/>
<line x1="660.5" y1="1039.74" x2="655.3" y2="1039.74"/>
<line x1="1003.8" y1="1039.74" x2="1009" y2="1039.74"/>
<line x1="660.5" y1="1033.83" x2="655.3" y2="1033.83"/>
<line x1="1003.8" y1="1033.83" x2="1009" y2="1033.83"/>
<line x1="660.5" y1="1027.92" x2="655.3" y2="1027.92"/>
<line x1="1003.8" y1="1027.92" x2="1009" y2="1027.92"/>
<line x1="660.5" y1="1022.01" x2="655.3" y2="1022.01"/>
<line x1="1003.8" y1="1022.01" x2="1009" y2="1022.01"/>
<line x1="660.5" y1="1016.1" x2="650.2" y2="1016.1"/>
<line x1="1003.8" y1="1016.1" x2="1014.1" y2="1016.1"/>
<line x1="660.5" y1="1010.19" x2="655.3" y2="1010.19"/>
<line x1="1003.8" y1="1010.19" x2="1009" y2="1010.19"/>
<line x1="660.5" y1="1004.28" x2="655.3" y2="1004.28"/>
<line x1="1003.8" y1="1004.28" x2="1009" y2="1004.28"/>
<line x1="660.5" y1="998.37" x2="655.3" y2="998.37"/>
<line x1="1003.8" y1="998.37" x2="1009" y2="998.37"/>
<line x1="660.5" y1="992.46" x2="655.3" y2="992.46"/>
<line x1="1003.8" y1="992.46" x2="1009" y2="992.46"/>
<line x1="660.5" y1="986.55" x2="655.3" y2="986.55"/>
<line x1="1003.8" y1="986.55" x2="1009" y2="986.55"/>
<line x1="660.5" y1="980.64" x2="655.3" y2="980.64"/>
<line x1="1003.8" y1="980.64" x2="1009" y2="980.64"/>
<line x1="660.5" y1="974.73" x2="655.3" y2="974.73"/>
<line x1="1003.8" y1="974.73" x2="1009" y2="974.73"/>
<line x1="660.5" y1="968.82" x2="655.3" y2="968.82"/>
<line x1="1003.8" y1="968.82" x2="1009" y2="968.82"/>
<line x1="660.5" y1="962.91" x2="655.3" y2="962.91"/>
<line x1="1003.8" y1="962.91" x2="1009" y2="962.91"/>
<line x1="660.5" y1="957" x2="650.2" y2="957"/>
<line x1="1003.8" y1="957" x2="1014.1" y2="957"/>
<line x1="660.5" y1="951.09" x2="655.3" y2="951.09"/>
<line x1="1003.8" y1="951.09" x2="1009" y2="951.09"/>
<line x1="660.5" y1="945.18" x2="655.3" y2="945.18"/>
<line x1="1003.8" y1="945.18" x2="1009" y2="945.18"/>
<line x1="660.5" y1="939.27" x2="655.3" y2="939.27"/>
<line x1="1003.8" y1="939.27" x2="1009" y2="939.27"/>
<line x1="660.5" y1="933.36" x2="655.3" y2="933.36"/>
<line x1="1003.8" y1="933.36" x2="1009" y2="933.36"/>
<line x1="660.5" y1="927.45" x2="655.3" y2="927.45"/>
<line x1="1003.8" y1="927.45" x2="1009" y2="927.45"/>
<line x1="660.5" y1="921.54" x2="655.3" y2="921.54"/>
<line x1="1003.8" y1="921.54" x2="1009" y2="921.54"/>
<line x1="660.5" y1="915.63" x2="655.3" y2="915.63"/>
<line x1="1003.8" y1="915.63" x2="1009" y2="915.63"/>
<line x1="660.5" y1="909.72" x2="655.3" y2="909.72"/>
<line x1="1003.8" y1="909.72" x2="1009" y2="909.72"/>
<line x1="660.5" y1="903.81" x2="655.3" y2="903.81"/>
<line x1="1003.8" y1="903.81" x2="1009" y2="903.81"/>
<line x1="660.5" y1="897.9" x2="650.2" y2="897.9"/>
<line x1="1003.8" y1="897.9" x2="1014.1" y2="897.9"/>
<line x1="660.5" y1="891.99" x2="655.3" y2="891.99"/>
<line x1="1003.8" y1="891.99" x2="1009" y2="891.99"/>
<rect x="660.5" y="886.8" width="343.3" height="306.6"/>
</g>
<text x="659.9" y="1214.2" text-anchor="middle" font-size="16.5">0</text>
<text x="723.3" y="1214.2" text-anchor="middle" font-size="16.5">10</text>
<text x="786.7" y="1214.2" text-anchor="middle" font-size="16.5">20</text>
<text x="850.1" y="1214.2" text-anchor="middle" font-size="16.5">30</text>
<text x="913.5" y="1214.2" text-anchor="middle" font-size="16.5">40</text>
<text x="976.9" y="1214.2" text-anchor="middle" font-size="16.5">50</text>
<text x="821.7" y="1244.8" text-anchor="middle" font-size="28.5" font-weight="bold">nm</text>
<rect x="661.2" y="887.5" width="46.7" height="55.5" fill="#fff"/>
<text x="664" y="931.2" font-size="45">(f)</text>
<text x="692.5" y="381.6" font-size="27.5" fill="#128a1e">After NH<tspan dy="5" font-size="25">3</tspan><tspan dy="-5"> exposure of</tspan></text>
<text x="701" y="423.2" font-size="27.5" fill="#128a1e">native oxide of n-InP</text>
<text x="700.3" y="870.8" font-size="27.5" fill="#128a1e">Native oxide of p-InP</text>
<clipPath id="clip417"><rect x="65.9" y="415.4" width="441.8" height="329.6"/></clipPath>
<g clip-path="url(#clip417)" fill="none" stroke-linejoin="round" stroke-linecap="round">
<line x1="98.3" y1="622.7" x2="149.8" y2="744" stroke="#1c7d1c" stroke-width="2.6" stroke-dasharray="9 11" stroke-linecap="butt"/>
<line x1="415.8" y1="738.4" x2="470.2" y2="575.2" stroke="#1c7d1c" stroke-width="2.6" stroke-dasharray="9 11" stroke-linecap="butt"/>
<polyline points="66.9,624.6 70.9,628.6 79.8,575.2 89.3,541.5 98.6,589 107.5,618.7 119.3,648.4 135.2,684 145,697.8 158.9,711.7 172.8,725.5 186.6,731.4 198.5,733.4 216.3,739.4 234,740.4 247.9,742.9 285,743.6 310,742.3 329.8,740.4 349.6,737.4 369.3,730.5 389.1,719.6 400,709.4 419,687.8 427.8,673.9 436.7,657.5 444.3,641 453.2,618.2 460.8,598 464.9,586 471.4,560.5 481.5,521 487.4,547.7 492.7,573.3 500.2,618.2 506,615" stroke="#e40c14" stroke-width="3.3"/>
<polyline points="65,598 66.9,600.9 70.9,608.8 79.8,543.5 89.7,515.8 98.6,598.9 107.5,638.5 119.3,666.2 135.2,699.8 149,715.6 162.9,729.5 178.7,736.4 198.5,741.3 218.3,742.9 285,743.6 310,743.3 339.7,741.7 359.5,738.4 379.2,731.5 400,717.6 419,697.3 427.8,680.3 436.7,662.5 444.3,643.5 450.6,626.5 457,607.5 463.9,586 471.4,571.2 474.6,566.9 481.5,543.4 490.6,571.2 494.8,595.7 499.6,629.9 506,626.5" stroke="#0c0cdc" stroke-width="3.3"/>
</g>
<rect x="65.9" y="417.4" width="439.8" height="327.6" fill="none" stroke="#000" stroke-width="2.3"/>
<line x1="65.9" y1="745" x2="65.9" y2="752" stroke="#000" stroke-width="2.2"/>
<text x="65.9" y="771" text-anchor="middle" font-size="19.8">-3</text>
<line x1="102.55" y1="745" x2="102.55" y2="749.5" stroke="#000" stroke-width="2.2"/>
<line x1="139.2" y1="745" x2="139.2" y2="752" stroke="#000" stroke-width="2.2"/>
<text x="139.2" y="771" text-anchor="middle" font-size="19.8">-2</text>
<line x1="175.85" y1="745" x2="175.85" y2="749.5" stroke="#000" stroke-width="2.2"/>
<line x1="212.5" y1="745" x2="212.5" y2="752" stroke="#000" stroke-width="2.2"/>
<text x="212.5" y="771" text-anchor="middle" font-size="19.8">-1</text>
<line x1="249.15" y1="745" x2="249.15" y2="749.5" stroke="#000" stroke-width="2.2"/>
<line x1="285.8" y1="745" x2="285.8" y2="752" stroke="#000" stroke-width="2.2"/>
<text x="285.8" y="771" text-anchor="middle" font-size="19.8">0</text>
<line x1="322.45" y1="745" x2="322.45" y2="749.5" stroke="#000" stroke-width="2.2"/>
<line x1="359.1" y1="745" x2="359.1" y2="752" stroke="#000" stroke-width="2.2"/>
<text x="359.1" y="771" text-anchor="middle" font-size="19.8">1</text>
<line x1="395.75" y1="745" x2="395.75" y2="749.5" stroke="#000" stroke-width="2.2"/>
<line x1="432.4" y1="745" x2="432.4" y2="752" stroke="#000" stroke-width="2.2"/>
<text x="432.4" y="771" text-anchor="middle" font-size="19.8">2</text>
<line x1="469.05" y1="745" x2="469.05" y2="749.5" stroke="#000" stroke-width="2.2"/>
<line x1="505.7" y1="745" x2="505.7" y2="752" stroke="#000" stroke-width="2.2"/>
<text x="505.7" y="771" text-anchor="middle" font-size="19.8">3</text>
<line x1="58.5" y1="745" x2="65.9" y2="745" stroke="#000" stroke-width="2.2"/>
<text x="55" y="750.6" text-anchor="end" font-size="19.8">0.0</text>
<line x1="61.4" y1="581.2" x2="65.9" y2="581.2" stroke="#000" stroke-width="2.2"/>
<line x1="58.5" y1="417.4" x2="65.9" y2="417.4" stroke="#000" stroke-width="2.2"/>
<text x="55" y="423" text-anchor="end" font-size="19.8">0.1</text>
<text x="285.8" y="809.3" text-anchor="middle" font-size="25.4">Voltage (V)</text>
<text transform="translate(19.8,581.2) rotate(-90)" text-anchor="middle" font-size="25.4">Differentiated I(V)</text>
<text x="66.7" y="456" font-size="42.5">(c)</text>
<line x1="140" y1="490.2" x2="187" y2="490.2" stroke="#e40c14" stroke-width="3.3"/>
<line x1="140" y1="515" x2="187" y2="515" stroke="#0c0cdc" stroke-width="3.3"/>
<text x="191" y="496.9" font-size="20">Native oxide of n-InP</text>
<text x="191" y="521.2" font-size="20">After NH<tspan font-size="20" dy="6.5">3</tspan><tspan dy="-6.5"> exposure of n-InP</tspan></text>
<rect x="229.8" y="598.5" width="112.7" height="29.1" fill="#12eef4"/>
<text x="286.15" y="619.8" text-anchor="middle" font-size="20" fill="#101a22">Fermi level</text>
<line x1="285.8" y1="629.6" x2="285.8" y2="737" stroke="#000" stroke-width="2.2"/>
<polygon points="281.3,732.5 290.3,732.5 285.8,744" fill="#000"/>
<clipPath id="clip868"><rect x="65.8" y="866" width="441.6" height="329.2"/></clipPath>
<g clip-path="url(#clip868)" fill="none" stroke-linejoin="round" stroke-linecap="round">
<polyline points="154.4,860 154.6,868.1 156.5,908.4 162.4,980 166.8,1023.5 171.1,1067 174.6,1101.8 182.4,1133.2 192,1155.8 199.8,1163.6 208.6,1177.6 219,1185.4 229.4,1189.7 245,1192.6 270,1194.2 300,1194.6 330,1194.4 360,1193.8 376.1,1191.6 386.8,1188.4 397.6,1183 406.1,1178.7 415.8,1168 424.4,1154 430.8,1136.9 437.3,1117.6 442.6,1099.3 446.9,1080 451.3,1040.4 458,1002.4 462.7,973.9 469.4,941.6 474.1,918.9 480.8,890.4 488.4,868.5 495,879 499.7,894.2 505.4,939.7 507,950" stroke="#e40c14" stroke-width="3.3"/>
<polyline points="134,860 134.1,868.1 135.4,980 136.3,1006.1 139.8,1037.4 144.1,1077.5 149.4,1101.8 154.6,1126.2 163.3,1143.6 172,1164.5 182.4,1176.7 194.6,1184.5 201.6,1188 208.6,1191.5 222.5,1192.7 235,1193.2 260,1194.2 300,1194.6 360,1194.3 387.9,1192.7 397.6,1185.2 413.7,1178.2 424.4,1168 435.1,1150.8 443.7,1132.6 448,1115.4 452.3,1097.2 459.8,1080 460.8,1074.5 470.3,1064.1 477,1015.7 482.7,973.9 487.4,939.7 492.1,898 495.6,868.5 496.5,860" stroke="#0c0cdc" stroke-width="3.3"/>
</g>
<rect x="65.8" y="868" width="439.6" height="327.2" fill="none" stroke="#000" stroke-width="2.3"/>
<line x1="65.8" y1="1195.2" x2="65.8" y2="1202.2" stroke="#000" stroke-width="2.2"/>
<text x="65.8" y="1221.2" text-anchor="middle" font-size="19.8">-3</text>
<line x1="102.43" y1="1195.2" x2="102.43" y2="1199.7" stroke="#000" stroke-width="2.2"/>
<line x1="139.07" y1="1195.2" x2="139.07" y2="1202.2" stroke="#000" stroke-width="2.2"/>
<text x="139.07" y="1221.2" text-anchor="middle" font-size="19.8">-2</text>
<line x1="175.7" y1="1195.2" x2="175.7" y2="1199.7" stroke="#000" stroke-width="2.2"/>
<line x1="212.33" y1="1195.2" x2="212.33" y2="1202.2" stroke="#000" stroke-width="2.2"/>
<text x="212.33" y="1221.2" text-anchor="middle" font-size="19.8">-1</text>
<line x1="248.97" y1="1195.2" x2="248.97" y2="1199.7" stroke="#000" stroke-width="2.2"/>
<line x1="285.6" y1="1195.2" x2="285.6" y2="1202.2" stroke="#000" stroke-width="2.2"/>
<text x="285.6" y="1221.2" text-anchor="middle" font-size="19.8">0</text>
<line x1="322.23" y1="1195.2" x2="322.23" y2="1199.7" stroke="#000" stroke-width="2.2"/>
<line x1="358.87" y1="1195.2" x2="358.87" y2="1202.2" stroke="#000" stroke-width="2.2"/>
<text x="358.87" y="1221.2" text-anchor="middle" font-size="19.8">1</text>
<line x1="395.5" y1="1195.2" x2="395.5" y2="1199.7" stroke="#000" stroke-width="2.2"/>
<line x1="432.13" y1="1195.2" x2="432.13" y2="1202.2" stroke="#000" stroke-width="2.2"/>
<text x="432.13" y="1221.2" text-anchor="middle" font-size="19.8">2</text>
<line x1="468.77" y1="1195.2" x2="468.77" y2="1199.7" stroke="#000" stroke-width="2.2"/>
<line x1="505.4" y1="1195.2" x2="505.4" y2="1202.2" stroke="#000" stroke-width="2.2"/>
<text x="505.4" y="1221.2" text-anchor="middle" font-size="19.8">3</text>
<line x1="58.4" y1="1195.2" x2="65.8" y2="1195.2" stroke="#000" stroke-width="2.2"/>
<text x="55" y="1200.8" text-anchor="end" font-size="19.8">0.0</text>
<line x1="61.3" y1="1031.6" x2="65.8" y2="1031.6" stroke="#000" stroke-width="2.2"/>
<line x1="58.4" y1="868" x2="65.8" y2="868" stroke="#000" stroke-width="2.2"/>
<text x="55" y="873.6" text-anchor="end" font-size="19.8">0.1</text>
<text x="285.6" y="1259.5" text-anchor="middle" font-size="25.4">Voltage (V)</text>
<text transform="translate(19.8,1031.6) rotate(-90)" text-anchor="middle" font-size="25.4">Differentiated I(V)</text>
<text x="66.6" y="906.6" font-size="42.5">(e)</text>
<line x1="175.3" y1="942" x2="217" y2="942" stroke="#e40c14" stroke-width="3.3"/>
<line x1="175.3" y1="966.7" x2="217" y2="966.7" stroke="#0c0cdc" stroke-width="3.3"/>
<text x="221" y="948.7" font-size="20">Native oxide of p-InP</text>
<text x="221" y="972.9" font-size="20">After O<tspan font-size="20" dy="6.5">2</tspan><tspan dy="-6.5"> exposure of p-InP</tspan></text>
<rect x="230.4" y="1050.3" width="112.6" height="28.8" fill="#12eef4"/>
<text x="286.7" y="1071.3" text-anchor="middle" font-size="20" fill="#101a22">Fermi level</text>
<line x1="285.6" y1="1081.1" x2="285.6" y2="1187.2" stroke="#000" stroke-width="2.2"/>
<polygon points="281.1,1182.7 290.1,1182.7 285.6,1194.2" fill="#000"/>
</svg>
</body></html>
